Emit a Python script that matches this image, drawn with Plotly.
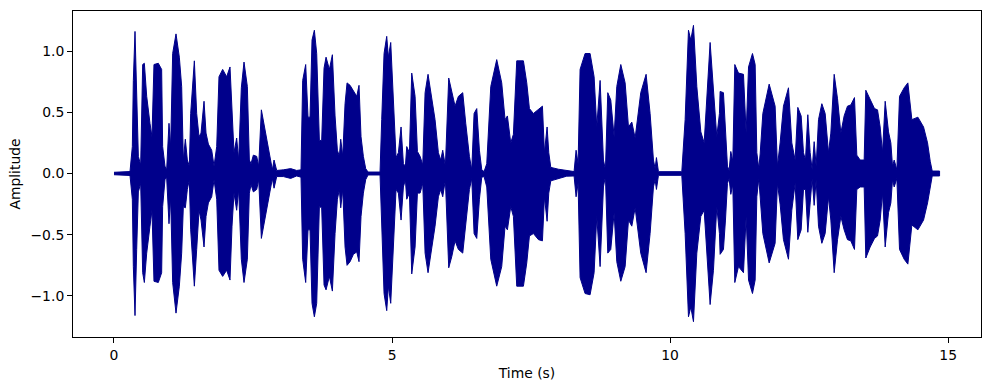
import plotly.graph_objects as go

# Waveform envelope: time (s), upper and lower amplitude
time_s = [
 0,.288,.33,.348,.378,.408,.438,.48,.516,.546,.588,.647,.683,.719,.797,.857,.875,.917,.947,.989,
 1.019,1.055,1.115,1.175,1.217,1.247,1.283,1.319,1.355,1.379,1.445,1.487,1.529,1.565,1.619,1.655,1.697,1.757,1.799,1.847,
 1.888,1.954,2.026,2.086,2.122,2.158,2.206,2.242,2.29,2.338,2.398,2.434,2.464,2.506,2.566,2.602,2.65,2.698,2.776,2.818,
 2.848,2.878,2.926,3.046,3.177,3.285,3.363,
 3.393,3.447,3.489,3.525,3.561,3.603,3.645,3.693,3.735,3.777,3.813,3.873,3.927,3.975,4.017,4.053,4.077,4.113,4.155,4.191,
 4.245,4.305,4.365,4.406,4.442,4.484,4.526,4.568,4.784,4.814,4.856,4.904,4.934,4.976,5.024,5.072,5.114,5.162,5.204,5.24,
 5.264,5.312,5.354,5.414,5.456,5.504,5.552,5.594,5.647,5.713,5.773,5.833,5.875,5.911,5.959,6.019,6.073,6.133,6.193,6.271,
 6.325,6.391,6.433,6.475,6.523,6.571,6.613,6.655,6.703,6.775,6.882,6.972,7.032,7.074,7.134,7.182,
 7.242,7.362,7.422,7.47,7.542,7.632,7.704,7.74,7.788,7.818,7.854,7.992,8.14,8.273,8.309,8.345,8.381,8.471,8.561,8.633,8.681,
 8.741,8.801,8.837,8.879,8.933,8.993,9.041,9.113,9.191,9.251,9.311,9.371,9.472,9.568,9.64,9.7,9.73,9.754,9.79,10.21,
 10.27,10.33,10.372,10.42,10.48,10.552,10.612,10.719,10.779,10.839,10.887,
 10.899,10.959,10.995,11.031,11.061,11.091,11.127,11.163,11.229,11.319,11.367,11.41,11.481,11.529,11.559,11.595,11.619,11.667,11.781,11.888,
 11.93,11.978,12.038,12.128,12.188,12.248,12.296,12.356,12.398,12.434,12.476,12.518,12.554,12.59,12.626,12.668,12.728,12.788,12.848,12.89,
 12.95,13.01,13.07,13.129,13.189,13.249,13.315,13.357,13.417,13.489,13.519,13.597,13.675,13.729,13.777,13.819,13.867,13.927,13.969,13.999,
 14.029,14.077,14.125,14.209,14.275,14.347,14.455,14.557,14.629,14.677,14.713,14.845,
]
upper = [
 .01,.016,.22,.76,1.16,.63,.14,.07,.89,.90,.63,.41,.30,.89,.90,.85,.22,.06,.03,.41,
 .22,.98,1.14,.95,.71,.11,.28,.11,.06,.49,.92,.49,.30,.33,.59,.33,.24,.19,.06,.22,
 .79,.85,.79,.87,.44,.17,.29,.11,.70,.91,.71,.11,.08,.15,.14,.06,.52,.40,.22,.11,
 .03,.11,.025,.03,.04,.025,.03,
 .76,.89,.46,.46,1.09,1.17,.98,.27,.27,.86,.95,.85,.97,.47,.19,.14,.28,.14,.57,.74,
 .72,.67,.63,.72,.30,.14,.04,.012,.012,.44,.98,1.12,.95,1.07,.57,.13,.17,.38,.08,.06,
 .22,.17,.82,.63,.18,.14,.07,.66,.81,.60,.44,.17,.11,.19,.06,.78,.68,.55,.63,.66,
 .41,.14,.03,.49,.53,.19,.03,.016,.08,.71,.93,.74,.44,.47,.25,.32,
 .92,.92,.74,.53,.49,.52,.55,.17,.38,.17,.05,.035,.022,.016,.19,.08,.85,.98,.98,.79,.38,
 .76,.11,.03,.66,.60,.30,.71,.89,.74,.38,.42,.29,.66,.81,.49,.11,.04,.13,.015,.015,
 .44,1.17,1.09,1.21,.71,.34,.25,1.07,.71,.30,.49,
 .67,.66,.38,.06,.025,.18,.10,.89,.82,.81,.33,.87,.98,.89,.17,.04,.16,.49,.73,.55,
 .06,.25,.55,.70,.25,.11,.54,.47,.17,.11,.48,.17,.03,.26,.06,.44,.57,.49,.17,.33,
 .81,.61,.33,.47,.55,.56,.62,.15,.11,.11,.68,.61,.53,.52,.38,.17,.59,.34,.25,.06,
 .11,.03,.63,.70,.74,.44,.46,.38,.25,.10,.02,.02,
]
lower = [
 -.01,-.016,-.21,-.76,-1.16,-.62,-.15,-.08,-.81,-.89,-.65,-.43,-.30,-.88,-.89,-.81,-.27,-.05,-.03,-.41,
 -.20,-.89,-1.14,-.92,-.65,-.27,-.28,-.13,-.05,-.46,-.92,-.62,-.30,-.38,-.60,-.35,-.24,-.19,-.05,-.21,
 -.79,-.84,-.79,-.87,-.43,-.16,-.30,-.13,-.70,-.89,-.70,-.16,-.09,-.15,-.13,-.05,-.53,-.41,-.24,-.11,
 -.04,-.12,-.025,-.025,-.04,-.02,-.03,
 -.70,-.89,-.46,-.46,-1.06,-1.17,-1.06,-.27,-.28,-.91,-.95,-.84,-.96,-.49,-.21,-.13,-.28,-.13,-.60,-.75,
 -.72,-.66,-.64,-.72,-.35,-.16,-.05,-.012,-.012,-.49,-.98,-1.12,-.92,-1.06,-.65,-.13,-.16,-.38,-.11,-.05,
 -.21,-.16,-.82,-.60,-.16,-.16,-.08,-.65,-.81,-.60,-.43,-.19,-.13,-.19,-.05,-.77,-.68,-.55,-.62,-.65,
 -.41,-.13,-.04,-.49,-.53,-.21,-.03,-.025,-.11,-.70,-.92,-.76,-.43,-.46,-.27,-.35,
 -.92,-.92,-.73,-.51,-.49,-.54,-.55,-.19,-.39,-.16,-.06,-.04,-.022,-.02,-.19,-.08,-.85,-.98,-.99,-.81,-.35,
 -.76,-.11,-.02,-.65,-.62,-.32,-.72,-.88,-.76,-.38,-.43,-.28,-.65,-.81,-.49,-.11,-.05,-.13,-.015,-.015,
 -.49,-1.17,-1.09,-1.21,-.65,-.35,-.30,-1.07,-.79,-.27,-.49,
 -.66,-.62,-.38,-.08,-.04,-.17,-.09,-.89,-.76,-.81,-.35,-.87,-.98,-.87,-.19,-.04,-.16,-.49,-.73,-.57,
 -.08,-.25,-.54,-.70,-.30,-.08,-.54,-.46,-.13,-.13,-.48,-.24,-.04,-.26,-.05,-.43,-.57,-.49,-.19,-.38,
 -.81,-.54,-.35,-.46,-.54,-.55,-.62,-.13,-.11,-.11,-.69,-.60,-.53,-.51,-.38,-.16,-.60,-.32,-.24,-.05,
 -.11,-.04,-.62,-.70,-.74,-.42,-.46,-.38,-.24,-.11,-.02,-.02,
]
x_ticks = [0, 5, 10, 15]
y_ticks = [-1.0, -0.5, 0.0, 0.5, 1.0]
y_labels = ["−1.0", "−0.5", "0.0", "0.5", "1.0"]

NAVY = "#00008b"
FONT = dict(family="DejaVu Sans", size=13.9, color="#000000")

fig = go.Figure(go.Scatter(
    x=time_s + time_s[::-1],
    y=upper + lower[::-1],
    mode="lines",
    fill="toself",
    fillcolor=NAVY,
    line=dict(color=NAVY, width=1),
    showlegend=False,
))
axis_style = dict(
    showgrid=False, zeroline=False, showline=True, mirror=True,
    linecolor="#000000", linewidth=1,
    ticks="outside", ticklen=5, tickwidth=1, tickcolor="#000000",
    tickfont=FONT,
)
fig.update_layout(
    width=989, height=390,
    margin=dict(l=73, r=8, t=11, b=53),
    paper_bgcolor="white", plot_bgcolor="white",
    font=FONT,
    xaxis=dict(range=[-0.737, 15.59], tickvals=x_ticks,
               ticktext=[str(v) for v in x_ticks],
               title=dict(text="Time (s)", font=FONT, standoff=6), **axis_style),
    yaxis=dict(range=[-1.335, 1.327], tickvals=y_ticks, ticktext=y_labels,
               title=dict(text="Amplitude", font=FONT, standoff=6), **axis_style),
)
fig.write_html("out.html", config=dict(displayModeBar=False),
               post_script="document.body.style.margin='0';")
